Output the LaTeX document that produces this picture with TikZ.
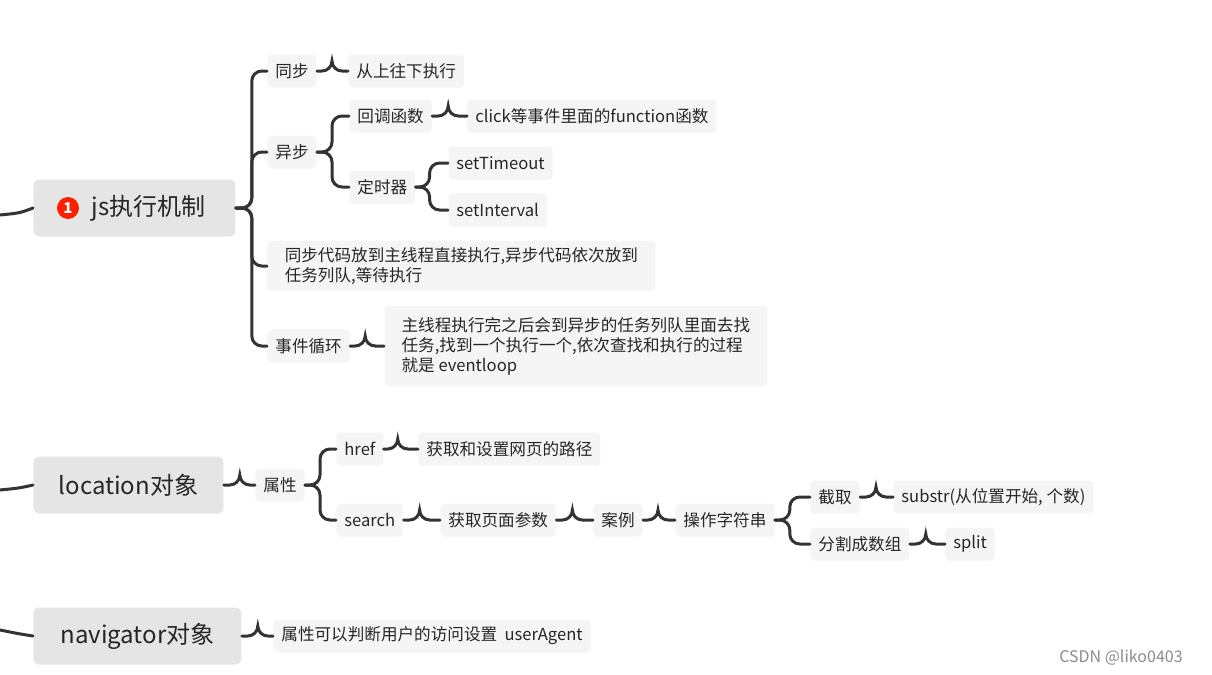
\documentclass[tikz,border=0pt]{standalone}
\usepackage{fontspec}
\setmainfont{Noto Sans CJK SC}
\begin{document}
\begin{tikzpicture}[x=0.5pt,y=-0.5pt,
  sb/.style={fill=black!4,rounded corners=2pt,anchor=west,inner xsep=4pt,minimum height=16.5pt,font=\fontsize{8.3}{10}\selectfont,text=black!85},
  mb/.style={fill=black!10,rounded corners=3pt,anchor=west,minimum height=28.5pt,font=\fontsize{12}{14}\selectfont,text=black!85},
  ln/.style={draw=black!80,line width=1.5pt,rounded corners=5pt,line cap=round}]
\useasboundingbox (0,0) rectangle (1212,675);
\node[mb,minimum width=101pt,inner xsep=0pt] (js) at (33,208) {\hspace*{14pt}js执行机制};
\node[circle,fill=red!75!orange,text=white,inner sep=0pt,minimum size=11pt,font=\fontsize{7.5}{8}\selectfont\bfseries] (one) at (68,208) {1};
\node[mb,minimum width=95pt] (loc) at (33,485) {location对象};
\node[mb,minimum width=104pt] (nav) at (33,636) {navigator对象};
\node[sb] (tb) at (267,71) {同步};
\node[sb] (tb1) at (348,71) {从上往下执行};
\node[sb] (yb) at (267,152) {异步};
\node[sb] (hd) at (349,116) {回调函数};
\node[sb] (click) at (467,116) {click等事件里面的function函数};
\node[sb] (dsq) at (349,187) {定时器};
\node[sb] (st) at (448,163) {setTimeout};
\node[sb] (si) at (448,210) {setInterval};
\node[sb,align=left,minimum width=194pt] (tbdm) at (267,266) {同步代码放到主线程直接执行,异步代码依次放到\\任务列队,等待执行};
\node[sb] (sj) at (267,346) {事件循环};
\node[sb,align=left,minimum width=191.5pt,minimum height=40pt] (zxc) at (384,346) {主线程执行完之后会到异步的任务列队里面去找\\任务,找到一个执行一个,依次查找和执行的过程\\就是 eventloop};
\node[sb] (sx) at (255,485) {属性};
\node[sb] (href) at (336,449) {href};
\node[sb] (hq) at (418,449) {获取和设置网页的路径};
\node[sb] (search) at (336,520) {search};
\node[sb] (ym) at (440,520) {获取页面参数};
\node[sb] (al) at (593,520) {案例};
\node[sb] (cz) at (675,520) {操作字符串};
\node[sb] (jq) at (810,497) {截取};
\node[sb] (substr) at (893,497) {substr(从位置开始, 个数)};
\node[sb] (fg) at (810,544) {分割成数组};
\node[sb] (split) at (945,544) {split};
\node[sb] (ua) at (273,636) {属性可以判断用户的访问设置\ \ userAgent};
\node[text=black!45,font=\fontsize{8}{10}\selectfont] (wm) at (1121,658) {CSDN @liko0403};
\coordinate (l1) at (0,215); \coordinate (l2) at (0,490); \coordinate (l3) at (0,630);
\draw[ln] (l1) .. controls (20,213) .. (js.west);
\draw[ln] (l2) .. controls (20,488) .. (loc.west);
\draw[ln] (l3) .. controls (20,634) .. (nav.west);
\foreach \p/\c/\d in {js/tb/16,js/yb/16,js/tbdm/16,js/sj/16,tb/tb1/15,yb/hd/15,yb/dsq/15,hd/click/16,dsq/st/14,dsq/si/14,sj/zxc/15,loc/sx/16,sx/href/15,sx/search/15,href/hq/14,search/ym/16,ym/al/16,al/cz/15,cz/jq/15,cz/fg/15,jq/substr/16,fg/split/16,nav/ua/16}
  \draw[ln] (\p.east) -- ++(\d,0) |- (\c.west);
\end{tikzpicture}
\end{document}
